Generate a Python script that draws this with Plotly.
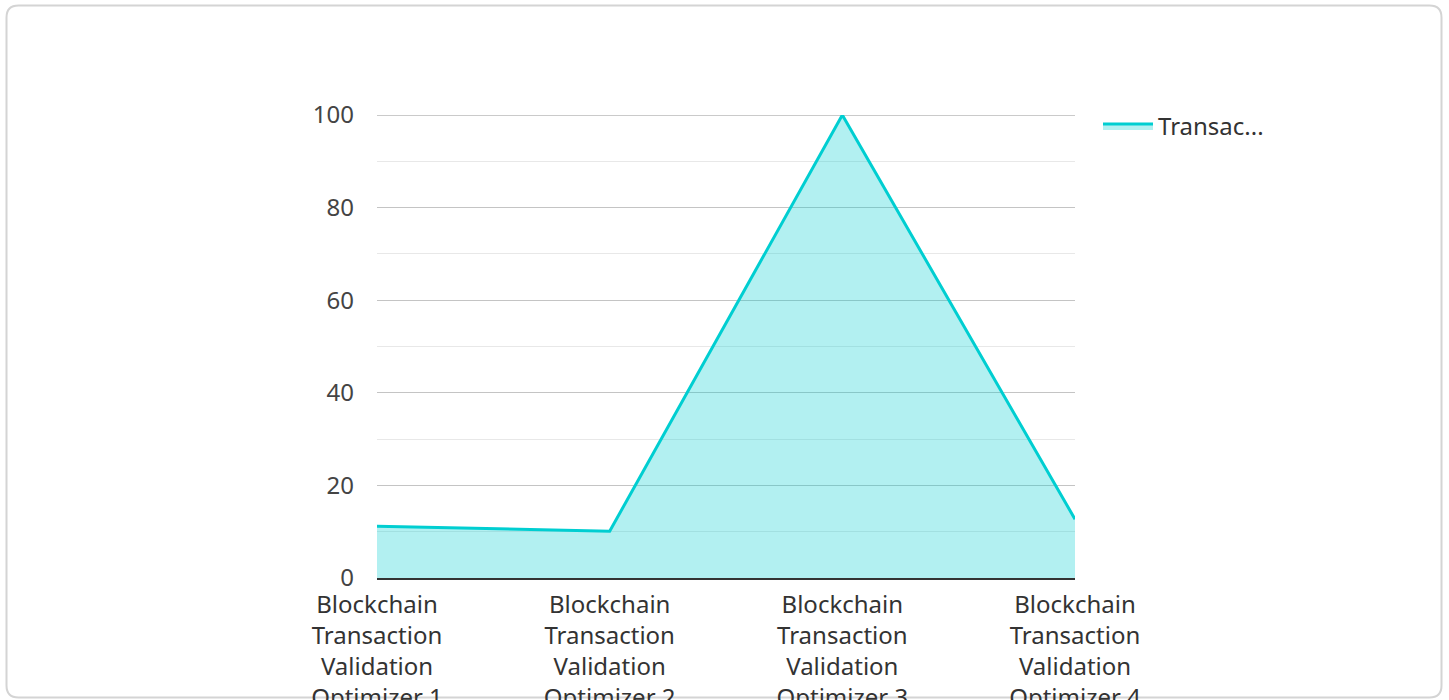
import plotly.graph_objects as go

categories = [
    "Blockchain<br>Transaction<br>Validation<br>Optimizer 1",
    "Blockchain<br>Transaction<br>Validation<br>Optimizer 2",
    "Blockchain<br>Transaction<br>Validation<br>Optimizer 3",
    "Blockchain<br>Transaction<br>Validation<br>Optimizer 4",
]
values = [11.2, 10.1, 100, 12.7]
series_name = "Transac..."
y_ticks = [0, 20, 40, 60, 80, 100]

W, H = 1449, 700
L, R, T, B = 377, 1075, 115, 578

fig = go.Figure()
fig.add_trace(go.Scatter(
    x=categories, y=values, name=series_name, mode="lines",
    fill="tozeroy", line=dict(color="#00CED1", width=3),
    fillcolor="rgba(0,206,209,0.3)", showlegend=True,
))

def px(x):
    return (x - L) / (R - L)

def py(y):
    return (B - y) / (B - T)

x0, y0, x1, y1, r = 6.5, 5.5, 1441.5, 697.5, 12
path = (
    f"M {px(x0 + r)},{py(y0)} L {px(x1 - r)},{py(y0)} "
    f"Q {px(x1)},{py(y0)} {px(x1)},{py(y0 + r)} "
    f"L {px(x1)},{py(y1 - r)} "
    f"Q {px(x1)},{py(y1)} {px(x1 - r)},{py(y1)} "
    f"L {px(x0 + r)},{py(y1)} "
    f"Q {px(x0)},{py(y1)} {px(x0)},{py(y1 - r)} "
    f"L {px(x0)},{py(y0 + r)} "
    f"Q {px(x0)},{py(y0)} {px(x0 + r)},{py(y0)} Z"
)
fig.add_shape(type="path", path=path, xref="paper", yref="paper",
              line=dict(color="#d4d4d4", width=2), fillcolor="rgba(0,0,0,0)",
              layer="below")
# top gridline (plotly omits the gridline at the range edge)
fig.add_shape(type="line", xref="paper", x0=0, x1=1, yref="y", y0=y_ticks[-1], y1=y_ticks[-1],
              line=dict(color="#b8b8b8", width=1.5), layer="between")

fig.update_layout(
    width=W, height=H,
    margin=dict(l=L, r=W - R, t=T, b=H - B, pad=0, autoexpand=False),
    paper_bgcolor="white", plot_bgcolor="white",
    font=dict(family="Noto Sans", size=24, color="#333333"),
    showlegend=True,
    legend=dict(x=px(1098), y=py(104), xanchor="left", yanchor="top",
                itemwidth=50,
                font=dict(size=24, color="#333333"), bgcolor="rgba(0,0,0,0)"),
    xaxis=dict(type="category", range=[0, 3], showgrid=False,
               showline=True, linecolor="#333333", linewidth=2,
               ticks="", ticklabelstandoff=4, tickfont=dict(size=24, color="#333333"),
               zeroline=False, fixedrange=True, automargin=False),
    yaxis=dict(range=[0, 100], tickvals=y_ticks, showgrid=True,
               gridcolor="#c4c4c4", gridwidth=1,
               minor=dict(dtick=10, tick0=0, showgrid=True, gridcolor="#e8e8e8", gridwidth=1),
               showline=False, zeroline=False, ticks="", ticklabelstandoff=22,
               tickfont=dict(size=24, color="#444444"), fixedrange=True, automargin=False),
)

fig.write_html("out.html", config={"displayModeBar": False},
               post_script="document.body.style.margin='0';document.body.style.overflow='hidden';")
